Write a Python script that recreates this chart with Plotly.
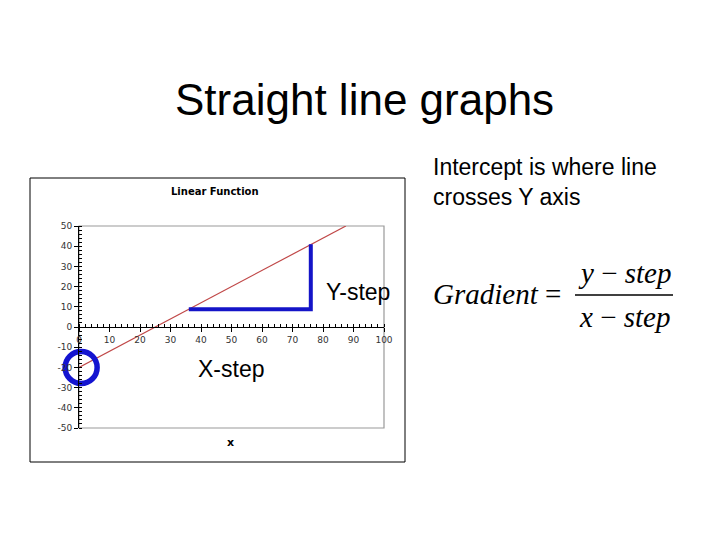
import plotly.graph_objects as go

# Values
line_x = [0, 87.5]
line_y = [-20, 50]
step_x = [36, 76, 76]
step_y = [8.8, 8.8, 41]
intercept_x = [0.7]
intercept_y = [-20]
x_ticks = [0, 10, 20, 30, 40, 50, 60, 70, 80, 90, 100]
y_ticks = [-50, -40, -30, -20, -10, 0, 10, 20, 30, 40, 50]
y_tick_labels = ['-50', '-40', '-30', '-20', '-10', '0', '10', '20', '30', '40', '50']

OFF = 8  # page body margin
W, H = 728 - 2 * OFF, 546 - 2 * OFF
L, R, T, B = 79 - OFF, 384 - OFF, 226 - OFF, 428 - OFF  # plot area in pixels


def px(p):
    """Page pixel x -> paper x."""
    return (p - OFF - L) / (R - L)


def py(p):
    """Page pixel y -> paper y."""
    return (B - (p - OFF)) / (B - T)


fig = go.Figure()
fig.add_trace(go.Scatter(x=line_x, y=line_y, mode='lines',
                         line=dict(color='#c04848', width=1.2)))
fig.add_trace(go.Scatter(x=step_x, y=step_y, mode='lines',
                         line=dict(color='#1414c8', width=4)))
fig.add_trace(go.Scatter(x=intercept_x, y=intercept_y, mode='markers',
                         cliponaxis=False,
                         marker=dict(symbol='circle-open', size=32, color='#1414d0',
                                     line=dict(color='#1414d0', width=5.5))))

tick_font = dict(family='DejaVu Sans', size=9, color='#333333')
fig.update_xaxes(range=[0, 100], tickvals=x_ticks, anchor='free', position=0.5,
                 showline=True, linecolor='black', linewidth=1,
                 ticks='outside', ticklen=4, tickcolor='black',
                 minor=dict(ticks='inside', ticklen=3, dtick=2, tickcolor='black'),
                 showgrid=False, zeroline=False, tickfont=tick_font)
fig.update_yaxes(range=[-50, 50], tickvals=y_ticks, ticktext=y_tick_labels,
                 showline=True, linecolor='black', linewidth=1,
                 ticks='outside', ticklen=4, tickcolor='black',
                 minor=dict(ticks='inside', ticklen=3, dtick=2, tickcolor='black'),
                 showgrid=False, zeroline=False, tickfont=tick_font)

shapes = [
    # chart frame
    dict(type='rect', xref='paper', yref='paper', x0=px(30), x1=px(405),
         y0=py(462), y1=py(178), line=dict(color='black', width=1), layer='below'),
    # plot area border
    dict(type='rect', xref='paper', yref='paper', x0=0, x1=1, y0=0, y1=1,
         line=dict(color='#999999', width=1.2), layer='below'),
    # fraction bar
    dict(type='line', xref='paper', yref='paper', x0=px(575), x1=px(673),
         y0=py(295), y1=py(295), line=dict(color='black', width=1.3)),
]

sans = 'Liberation Sans, Arial'
serif = 'Liberation Serif, Times New Roman'
ann = [
    dict(text='Straight line graphs', x=px(364), y=py(99), font=dict(family=sans, size=44)),
    dict(text='<b>Linear Function</b>', x=px(215), y=py(191),
         font=dict(family='DejaVu Sans', size=10)),
    dict(text='<b>x</b>', x=px(230), y=py(442), font=dict(family='DejaVu Sans', size=11)),
    dict(text='Y-step', x=px(358), y=py(292), font=dict(family=sans, size=23)),
    dict(text='X-step', x=px(231), y=py(369), font=dict(family=sans, size=23)),
    dict(text='Intercept is where line<br>crosses Y axis', x=px(431), y=py(182),
         xanchor='left', align='left', font=dict(family=sans, size=23)),
    dict(text='<i>Gradient</i> =', x=px(431), y=py(294), xanchor='left',
         font=dict(family=serif, size=29)),
    dict(text='<i>y</i> − <i>step</i>', x=px(624), y=py(273),
         font=dict(family=serif, size=29)),
    dict(text='<i>x</i> − <i>step</i>', x=px(624), y=py(317),
         font=dict(family=serif, size=29)),
]
for a in ann:
    a.setdefault('xanchor', 'center')
    a.update(xref='paper', yref='paper', yanchor='middle', showarrow=False)
    a['font'].setdefault('color', 'black')

fig.update_layout(width=W, height=H, margin=dict(l=L, r=W - R, t=T, b=H - B),
                  paper_bgcolor='white', plot_bgcolor='white', showlegend=False,
                  shapes=shapes, annotations=ann)
fig.write_html('out.html')
